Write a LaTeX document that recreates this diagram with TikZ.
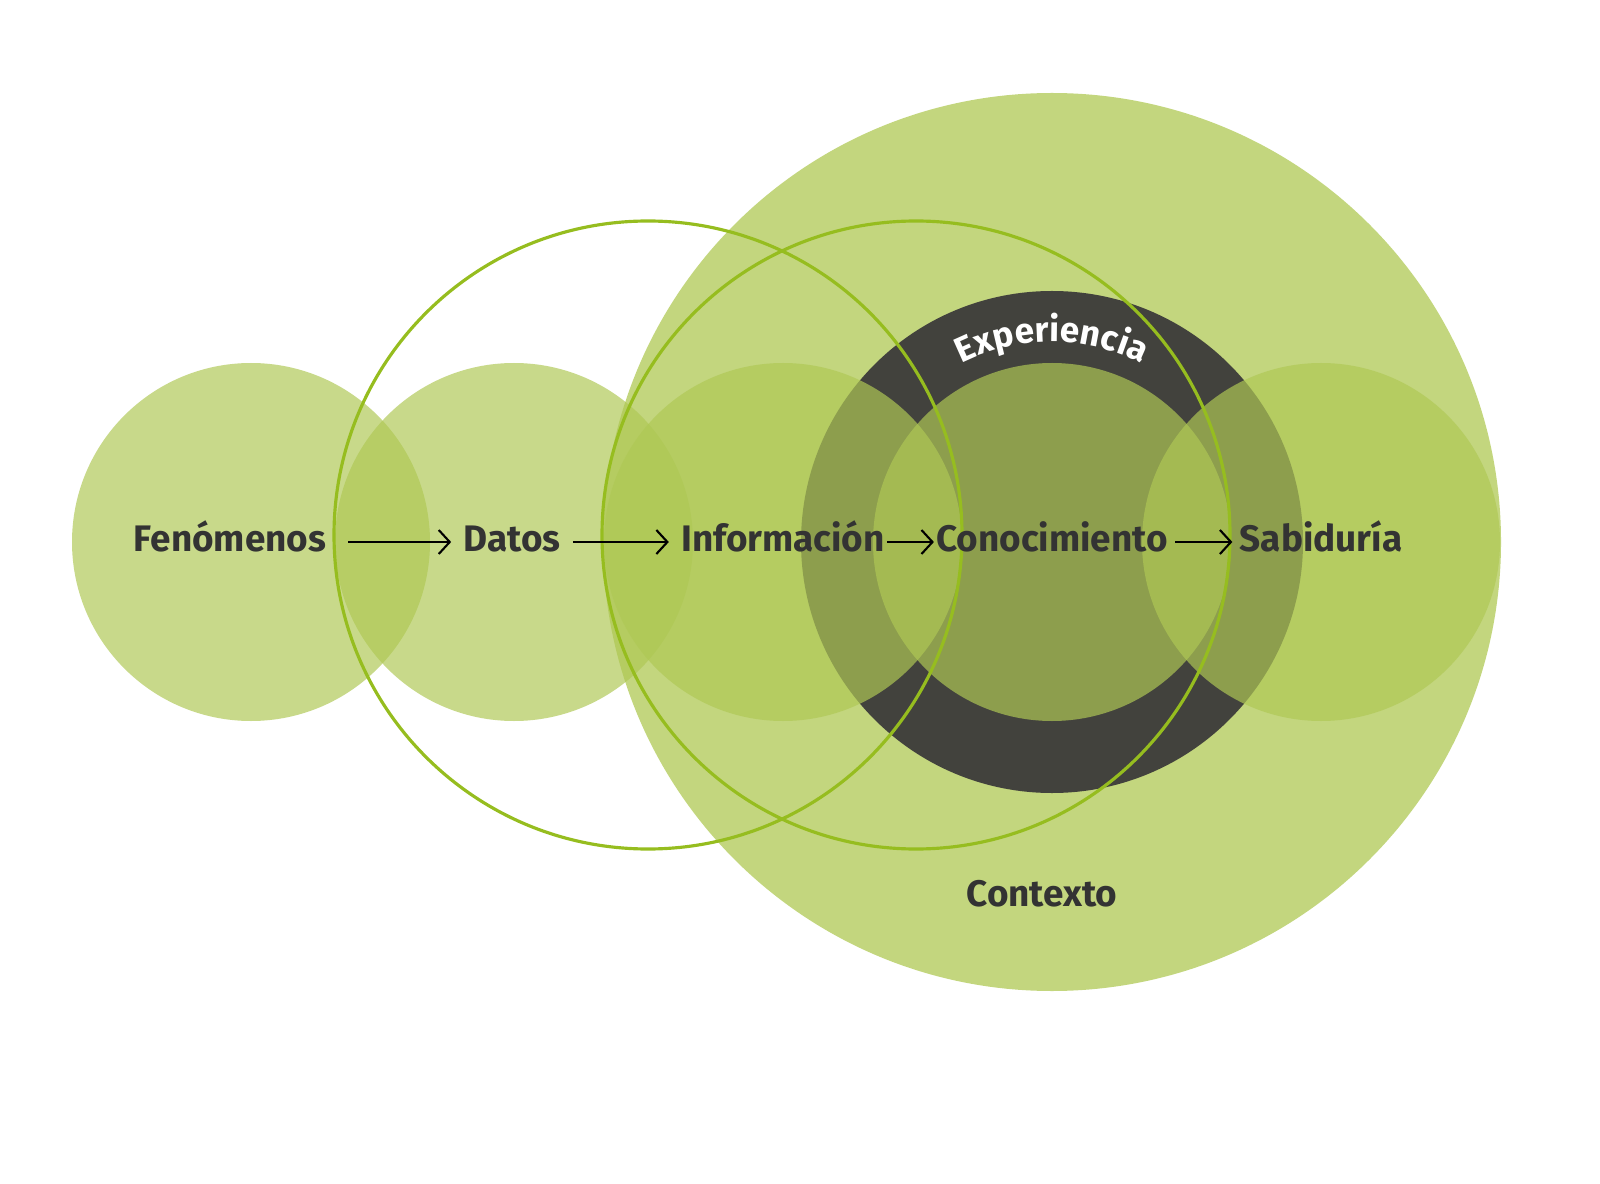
\documentclass[tikz,border=0pt]{standalone}
\usepackage{fontspec}
\setmainfont{Fira Sans}
\usetikzlibrary{arrows.meta, positioning, decorations.text}
\definecolor{ctxgreen}{RGB}{195,214,126}
\definecolor{stepgreen}{RGB}{175,200,85}
\definecolor{ringgrey}{RGB}{66,66,61}
\definecolor{linegreen}{RGB}{150,189,31}
\definecolor{labelgrey}{RGB}{51,51,51}

\begin{document}
\begin{tikzpicture}[
    stage/.style={circle, fill=stepgreen, fill opacity=0.69, minimum size=3.58cm, inner sep=0pt},
    ring/.style={draw=linegreen, line width=0.9pt},
    label/.style={text=labelgrey, font=\fontsize{10.5}{12}\selectfont\bfseries, text height=2.6mm, text depth=0.8mm},
    thinarrow/.style={-{Straight Barb[length=1.1mm,width=2.4mm]}, semithick}
]
    \useasboundingbox (0,0) rectangle (16,11.83);
    % Context
    \fill[ctxgreen] (10.52,6.41) circle (4.49);
    \node[label] (ctx) at (10.42,2.86) {Contexto};
    % Experience ring
    \fill[ringgrey] (10.52,6.41) circle (2.51);
    \path[decorate, decoration={text along path, text align=center,
        text={|\fontsize{10}{12}\selectfont\bfseries\color{white}|Experiencia}}]
        (10.52,6.41) ++(118:2.0) arc (118:62:2.0);
    % Stages
    \node[stage] (cfen) at (2.51,6.41) {};
    \node[stage] (cdat) at (5.14,6.41) {};
    \node[stage] (cinf) at (7.83,6.41) {};
    \node[stage] (ccon) at (10.52,6.41) {};
    \node[stage] (csab) at (13.21,6.41) {};
    % Outline circles
    \draw[ring] (6.48,6.48) circle (3.14);
    \draw[ring] (9.16,6.48) circle (3.14);
    % Labels
    \node[label] (fen) at (2.30,6.41) {Fenómenos};
    \node[label] (dat) at (5.12,6.41) {Datos};
    \node[label] (inf) at (7.83,6.41) {Información};
    \node[label] (con) at (10.52,6.41) {Conocimiento};
    \node[label] (sab) at (13.21,6.41) {Sabiduría};
    % Arrows
    \draw[thinarrow, shorten <=1mm] (fen) -- (dat);
    \draw[thinarrow] (dat) -- (inf);
    \draw[thinarrow, shorten <=-1mm, shorten >=-1mm] (inf) -- (con);
    \draw[thinarrow, shorten <=-0.5mm, shorten >=-0.5mm] (con) -- (sab);
\end{tikzpicture}
\end{document}
